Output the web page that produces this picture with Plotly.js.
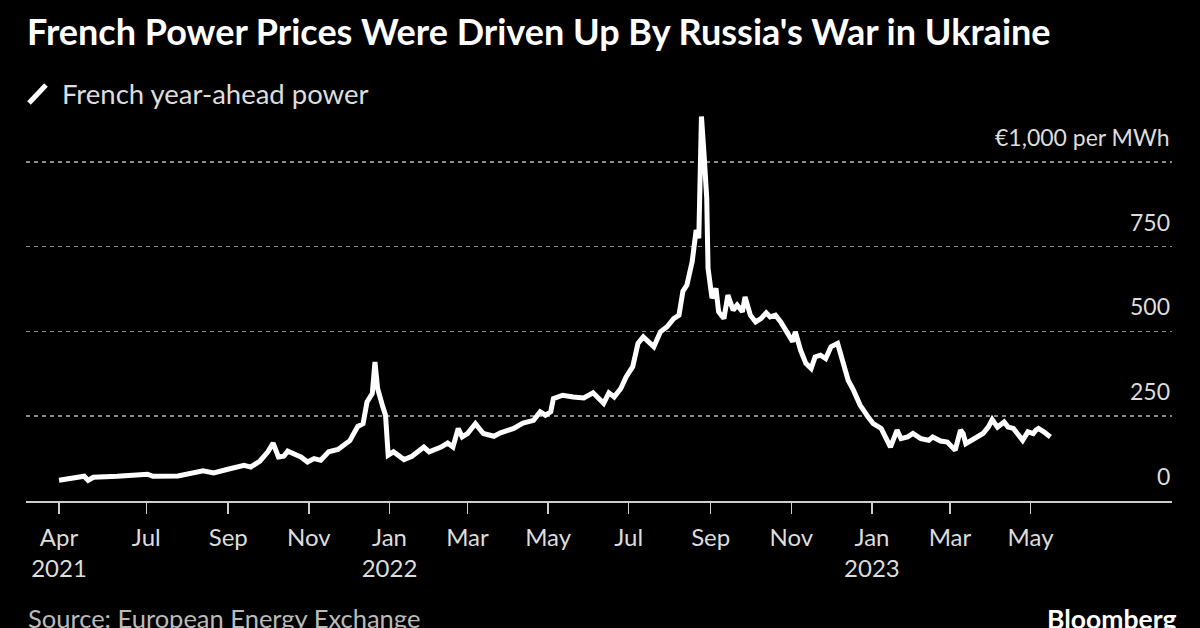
<!DOCTYPE html>
<html>
<head>
<meta charset="utf-8">
<script src="https://cdn.plot.ly/plotly-3.0.1.min.js"></script>
<style>
  html, body { margin: 0; padding: 0; background: #000; }
  #chart { width: 1200px; height: 628px; }
</style>
</head>
<body>
<div id="chart"></div>
<script>
// French year-ahead baseload power, EUR per MWh
const seriesName = "French year-ahead power";

const dates = [
  "2021-04-26","2021-05-15","2021-05-18","2021-05-22","2021-06-09","2021-07-02","2021-07-06","2021-07-25",
  "2021-08-13","2021-08-21","2021-08-31","2021-09-13","2021-09-18","2021-09-25","2021-10-01","2021-10-05",
  "2021-10-07","2021-10-09","2021-10-13","2021-10-16","2021-10-23","2021-10-26","2021-10-31","2021-11-05",
  "2021-11-10","2021-11-16","2021-11-23","2021-11-27","2021-12-02","2021-12-08","2021-12-12","2021-12-15",
  "2021-12-19","2021-12-21","2021-12-23","2021-12-27","2021-12-29","2021-12-31","2022-01-04","2022-01-12",
  "2022-01-18","2022-01-27","2022-01-31","2022-02-09","2022-02-14","2022-02-18","2022-02-22","2022-02-25",
  "2022-03-01","2022-03-07","2022-03-13","2022-03-21","2022-03-26","2022-04-05","2022-04-12","2022-04-20",
  "2022-04-25","2022-04-29","2022-05-03","2022-05-05","2022-05-12","2022-05-20","2022-05-28","2022-06-04",
  "2022-06-12","2022-06-16","2022-06-20","2022-06-25","2022-06-29","2022-07-04","2022-07-08","2022-07-12",
  "2022-07-16","2022-07-20","2022-07-25","2022-07-30","2022-08-04","2022-08-08","2022-08-11","2022-08-14",
  "2022-08-18","2022-08-21","2022-08-23","2022-08-25","2022-08-27","2022-08-29","2022-08-30","2022-09-02",
  "2022-09-05","2022-09-07","2022-09-11","2022-09-14","2022-09-18","2022-09-21","2022-09-25","2022-09-27",
  "2022-10-01","2022-10-05","2022-10-09","2022-10-13","2022-10-16","2022-10-20","2022-10-24","2022-10-29",
  "2022-11-02","2022-11-04","2022-11-08","2022-11-12","2022-11-16","2022-11-19","2022-11-23","2022-11-27",
  "2022-12-01","2022-12-06","2022-12-10","2022-12-14","2022-12-18","2022-12-23","2022-12-29","2023-01-02",
  "2023-01-08","2023-01-13","2023-01-15","2023-01-20","2023-01-23","2023-01-28","2023-02-01","2023-02-07",
  "2023-02-13","2023-02-16","2023-02-22","2023-02-27","2023-03-05","2023-03-09","2023-03-11","2023-03-13",
  "2023-03-17","2023-03-22","2023-03-26","2023-03-30","2023-04-02","2023-04-06","2023-04-11","2023-04-14",
  "2023-04-18","2023-04-22","2023-04-25","2023-04-29","2023-05-03","2023-05-05","2023-05-07","2023-05-11",
  "2023-05-16"
];

const prices = [
  61, 73, 61, 70, 73, 79, 73, 74,
  89, 83, 93, 105, 100, 118, 145, 171,
  150, 130, 132, 147, 135, 130, 115, 125,
  120, 145, 152, 164, 178, 220, 228, 292,
  317, 410, 332, 277, 253, 135, 145, 122,
  132, 159, 145, 159, 171, 159, 214, 189,
  199, 228, 199, 191, 201, 214, 230, 238,
  263, 253, 263, 302, 312, 307, 304, 319,
  288, 319, 307, 332, 366, 396, 465, 484,
  468, 455, 499, 514, 538, 548, 619, 637,
  706, 799, 775, 1134, 1021, 893, 686, 598,
  627, 558, 538, 607, 563, 578, 558, 602,
  548, 528, 538, 555, 543, 548, 528, 494,
  470, 499, 445, 406, 391, 425, 430, 420,
  455, 465, 406, 356, 327, 283, 248, 228,
  214, 169, 159, 209, 184, 189, 199, 184,
  179, 189, 177, 174, 150, 209, 199, 169,
  179, 189, 199, 218, 240, 218, 233, 218,
  214, 194, 179, 204, 199, 209, 214, 204,
  189
];

// Axis ticks
const xTickVals = ["2021-04-26","2021-07-01","2021-09-01","2021-11-01","2022-01-01","2022-03-01",
                   "2022-05-01","2022-07-01","2022-09-01","2022-11-01","2023-01-01","2023-03-01","2023-05-01"];
const xTickText = ["Apr<br>2021","Jul","Sep","Nov","Jan<br>2022","Mar",
                   "May","Jul","Sep","Nov","Jan<br>2023","Mar","May"];
const yTickVals = [0, 250, 500, 750, 1000];
const yTickText = ["0", "250", "500", "750", "€1,000 per MWh"];

const titleText = "French Power Prices Were Driven Up By Russia's War in Ukraine";
const sourceText = "Source: European Energy Exchange";
const brandText = "Bloomberg";

const FONT = "Lato, 'Noto Sans', sans-serif";

const W = 1200, H = 628;
const M = { l: 26, r: 28, t: 108, b: 127 };
const plotW = W - M.l - M.r, plotH = H - M.t - M.b;
// pixel -> paper helpers for the header/footer furniture
const px = x => (x - M.l) / plotW;
const py = y => (H - M.b - y) / plotH;

const trace = {
  type: "scatter",
  mode: "lines",
  name: seriesName,
  x: dates,
  y: prices,
  line: { color: "#ffffff", width: 5, shape: "linear" },
  hoverinfo: "x+y",
  showlegend: false
};

// y-axis labels sit above their gridlines at the right edge
const yLabelAnnotations = yTickVals.map((v, i) => ({
  text: yTickText[i],
  xref: "paper", yref: "y",
  x: 1, xanchor: "right",
  y: v, yanchor: "middle", yshift: 25,
  showarrow: false,
  font: { family: FONT, size: 23, color: "#dddddd" }
}));

const layout = {
  width: W,
  height: H,
  margin: M,
  paper_bgcolor: "#000000",
  plot_bgcolor: "#000000",
  font: { family: FONT, color: "#dddddd" },
  title: {
    text: titleText,
    xref: "container", yref: "container",
    x: 27 / W, xanchor: "left",
    y: 1 - 32 / H, yanchor: "middle",
    font: { family: FONT, size: 36, color: "#ffffff", weight: 700 }
  },
  xaxis: {
    type: "date",
    range: ["2021-04-01", "2023-08-16"],
    tickmode: "array",
    tickvals: xTickVals,
    ticktext: xTickText,
    ticks: "outside",
    ticklen: 11,
    tickwidth: 1.5,
    tickcolor: "#cccccc",
    ticklabelstandoff: 3,
    showline: true,
    linecolor: "#cccccc",
    linewidth: 2,
    showgrid: false,
    zeroline: false,
    tickfont: { family: FONT, size: 24, color: "#dddddd" },
    fixedrange: true
  },
  yaxis: {
    range: [0, 1159],
    tickmode: "array",
    tickvals: yTickVals,
    showticklabels: false,
    ticks: "",
    showgrid: true,
    gridcolor: "#8a8a8a",
    gridwidth: 1.5,
    griddash: "4px,4px",
    zeroline: false,
    showline: false,
    fixedrange: true
  },
  shapes: [
    {
      type: "line", xref: "paper", yref: "paper",
      x0: px(29), y0: py(103), x1: px(46), y1: py(85),
      line: { color: "#ffffff", width: 5 }
    }
  ],
  annotations: yLabelAnnotations.concat([
    {
      text: seriesName, xref: "paper", yref: "paper",
      x: px(60), xanchor: "left", y: py(93), yanchor: "middle",
      showarrow: false, font: { family: FONT, size: 27.5, color: "#dddddd" }
    },
    {
      text: sourceText, xref: "paper", yref: "paper",
      x: px(26), xanchor: "left", y: py(601), yanchor: "top",
      showarrow: false, font: { family: FONT, size: 25.5, color: "#bbbbbb" }
    },
    {
      text: "<b>" + brandText + "</b>", xref: "paper", yref: "paper",
      x: px(1178), xanchor: "right", y: py(601), yanchor: "top",
      showarrow: false, font: { family: FONT, size: 26.5, color: "#ffffff" }
    }
  ])
};

Plotly.newPlot("chart", [trace], layout, { staticPlot: true, displayModeBar: false });
</script>
</body>
</html>
